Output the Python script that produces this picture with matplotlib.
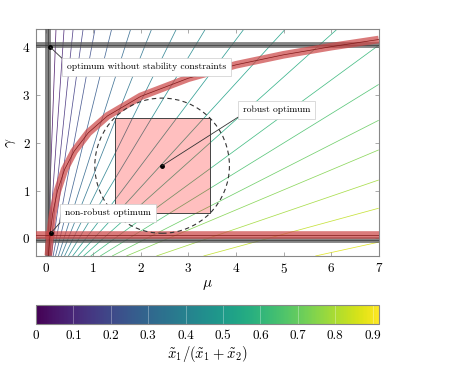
import numpy as np
import matplotlib
matplotlib.use("Agg")
import matplotlib.pyplot as plt
from matplotlib.colors import Normalize
from matplotlib.cm import ScalarMappable
from matplotlib.patches import Rectangle, Circle

plt.rcParams['font.family'] = 'serif'
plt.rcParams['font.serif'] = ['cmr10', 'DejaVu Serif']
plt.rcParams['mathtext.fontset'] = 'cm'
plt.rcParams['axes.formatter.use_mathtext'] = True

# ---- data ----
# contour levels of x1/(x1+x2)
line_levels = [0.044, 0.087, 0.131, 0.175, 0.218, 0.262, 0.306, 0.349, 0.393, 0.437,
               0.480, 0.524, 0.568, 0.611, 0.655, 0.699, 0.742, 0.786, 0.830, 0.873]
# start point of each contour line (on bottom edge)
line_mu_start = [0.04, 0.06, 0.09, 0.12, 0.16, 0.21, 0.27, 0.33, 0.40, 0.48,
                 0.57, 0.68, 0.80, 0.95, 1.15, 1.40, 1.70, 2.33, 3.32, 5.67]
line_gamma_start = [-0.37] * 20
# end point of each contour line (top or right edge)
line_mu_end = [0.22, 0.39, 0.58, 0.79, 1.04, 1.39, 1.79, 2.23, 2.75, 3.36,
               4.17, 5.04, 6.13, 7.0, 7.0, 7.0, 7.0, 7.0, 7.0, 7.0]
line_gamma_end = [4.38] * 13 + [4.04, 3.22, 2.47, 1.85, 1.22, 0.63, -0.08]

# stability boundary curve (red)
curve_mu = [0.06, 0.10, 0.15, 0.25, 0.40, 0.60, 0.90, 1.30, 2.00, 3.00, 4.00, 5.00, 6.00, 7.00]
curve_gamma = [-0.36, 0.12, 0.51, 0.99, 1.44, 1.82, 2.21, 2.56, 2.97, 3.35, 3.63, 3.84, 4.01, 4.16]

red_hline = 0.07          # horizontal stability constraint
gray_hline_low = -0.03    # gamma lower bound
gray_hline_high = 4.05    # gamma upper bound
gray_vline = 0.06         # mu lower bound

opt_free = (0.10, 4.00)
opt_nonrobust = (0.12, 0.12)
opt_robust = (2.45, 1.52)
box_half = 1.0
circle_radius = 1.414

labels = ["optimum without stability constraints", "robust optimum", "non-robust optimum"]
label_pos = [(0.45, 3.58), (4.15, 2.69), (0.41, 0.53)]

x_ticks = [0, 1, 2, 3, 4, 5, 6, 7]
y_ticks = [0, 1, 2, 3, 4]
cb_ticks = [0, 0.1, 0.2, 0.3, 0.4, 0.5, 0.6, 0.7, 0.8, 0.9]
cb_ticklabels = ["0", "0.1", "0.2", "0.3", "0.4", "0.5", "0.6", "0.7", "0.8", "0.9"]
cb_max = 0.917

# ---- figure ----
fig = plt.figure(figsize=(4.74, 3.73), dpi=100)
ax = fig.add_axes([36/474, 117/373, 342.7/474, 227/373])
cmap = plt.get_cmap('viridis')
norm = Normalize(0, cb_max)

for lv, m0, g0, m1, g1 in zip(line_levels, line_mu_start, line_gamma_start, line_mu_end, line_gamma_end):
    ax.plot([m0, m1], [g0, g1], color=cmap(norm(lv)), lw=0.55, alpha=0.9, zorder=1,
            solid_capstyle='butt')

band_gray = dict(color='#5a5a5a', alpha=0.75, lw=4.2, zorder=3, solid_capstyle='butt')
ax.axhline(gray_hline_low, **band_gray)
ax.axhline(gray_hline_high, **band_gray)
ax.axvline(gray_vline, **band_gray)
ax.axhline(gray_hline_low, color='#3a3a3a', lw=0.5, zorder=3.1)
ax.axhline(gray_hline_high, color='#3a3a3a', lw=0.5, zorder=3.1)
ax.axvline(gray_vline, color='#3a3a3a', lw=0.5, zorder=3.1)

band_red = dict(color='#cc4848', alpha=0.72, lw=5.5, zorder=4, solid_capstyle='butt')
ax.axhline(red_hline, **band_red)
ax.plot(curve_mu, curve_gamma, **band_red)
ax.axhline(red_hline, color='#801818', lw=0.5, zorder=4.1)
ax.plot(curve_mu, curve_gamma, color='#801818', lw=0.5, zorder=4.1)

ax.add_patch(Rectangle((opt_robust[0]-box_half, opt_robust[1]-box_half), 2*box_half, 2*box_half,
                       facecolor=(1, 0, 0, 0.25), edgecolor='#444444', lw=0.7, zorder=5))
ax.add_patch(Circle(opt_robust, circle_radius, fill=False, edgecolor='#333333', lw=0.8,
                    ls=(0, (4, 3)), zorder=5))

for p in (opt_free, opt_nonrobust, opt_robust):
    ax.plot(*p, 'o', color='black', ms=2.5, zorder=7)

targets = [opt_free, opt_robust, opt_nonrobust]
relposs = [(0, 1), (0, 0), (0, 0)]
for txt, pos, tgt, rp in zip(labels, label_pos, targets, relposs):
    ax.annotate(txt, xy=tgt, xytext=pos, textcoords='data', fontsize=6.9,
                ha='left', va='center', zorder=8,
                bbox=dict(boxstyle='square,pad=0.5', fc='white', ec='#cccccc', lw=0.5),
                arrowprops=dict(arrowstyle='-', color='#333333', lw=0.6, relpos=rp,
                                shrinkA=0, shrinkB=0))

ax.set_xlim(-0.2, 7.0)
ax.set_ylim(-0.37, 4.38)
ax.set_xticks(x_ticks)
ax.set_yticks(y_ticks)
ax.tick_params(direction='in', top=True, right=True, length=3, width=0.5,
               color='#888888', labelsize=9.5, pad=4)
for s in ax.spines.values():
    s.set_color('#888888')
    s.set_linewidth(0.8)
ax.set_xlabel(r'$\mu$', fontsize=11, labelpad=2)
ax.set_ylabel(r'$\gamma$', fontsize=11, labelpad=3, rotation=90)

cax = fig.add_axes([36/474, 49/373, 343/474, 19/373])
cb = fig.colorbar(ScalarMappable(norm=norm, cmap=cmap), cax=cax, orientation='horizontal')
cb.set_ticks(cb_ticks)
cb.set_ticklabels(cb_ticklabels)
cb.outline.set_edgecolor('#888888')
cb.outline.set_linewidth(0.8)
cax.tick_params(direction='in', top=True, length=19, width=0.4, color=(1, 1, 1, 0.3),
                labelsize=9.5, pad=4)
cb.set_label(r'$\tilde{x}_1/(\tilde{x}_1+\tilde{x}_2)$', fontsize=10.5, labelpad=2)

fig.savefig('out.png', dpi=100)
